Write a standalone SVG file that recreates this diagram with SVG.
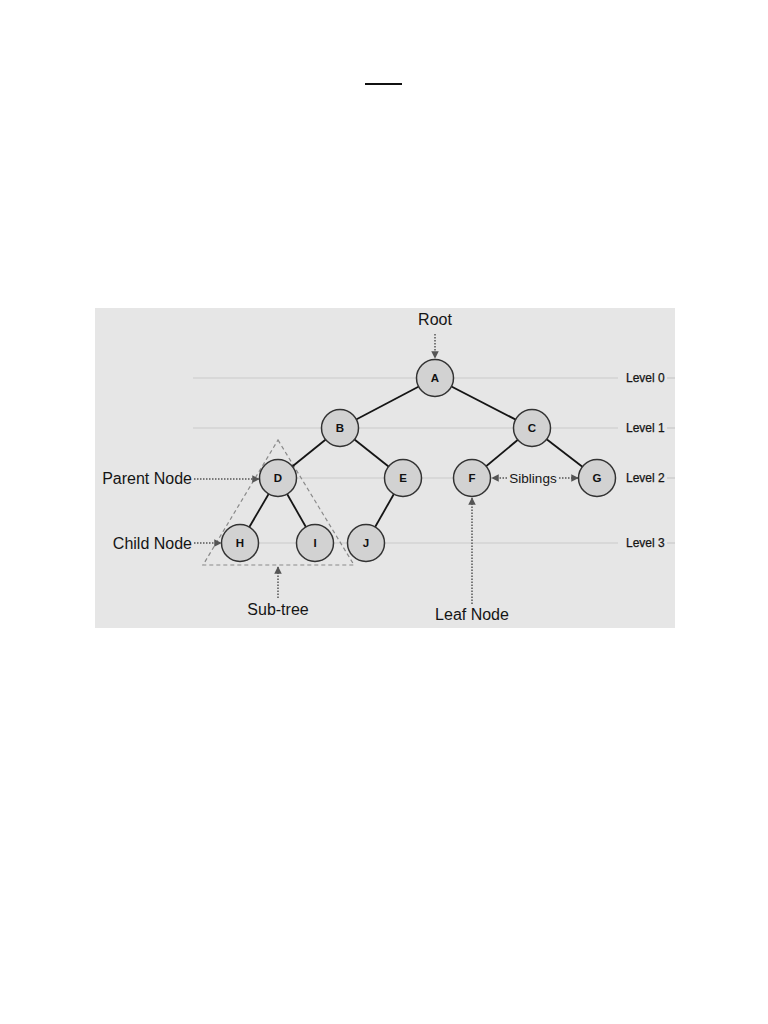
<svg xmlns="http://www.w3.org/2000/svg" width="768" height="1024" viewBox="0 0 768 1024">
<style>
.lvl{stroke:#c9c9c9;stroke-width:1.2;fill:none}
.edge{stroke:#151515;stroke-width:1.8;fill:none}
.ptr{stroke:#555;stroke-width:1.5;stroke-dasharray:1.5 1.5;fill:none}
.node circle{fill:#d2d2d2;stroke:#333;stroke-width:1.5}
.node text{font-family:"Liberation Sans",Arial,sans-serif;font-weight:bold;font-size:11.5px;fill:#111;text-anchor:middle}
.lbl{font-family:"Liberation Sans",Arial,sans-serif;font-size:16px;fill:#151515}
.sib{font-family:"Liberation Sans",Arial,sans-serif;font-size:13.5px;fill:#151515}
.lv{font-family:"Liberation Sans",Arial,sans-serif;font-size:12px;fill:#151515;stroke:#151515;stroke-width:0.25}
</style>
<defs>
<marker id="ah" viewBox="0 0 10 10" refX="9" refY="5" markerWidth="5" markerHeight="5" orient="auto">
<path d="M0,0 L10,5 L0,10 z" fill="#555"/>
</marker>
</defs>
<rect x="0" y="0" width="768" height="1024" fill="#ffffff"/>
<line x1="365" y1="84" x2="402" y2="84" stroke="#111" stroke-width="2"/>
<rect x="95" y="308" width="580" height="320" fill="#e6e6e6"/>
<g id="levels">
<line class="lvl" x1="193" y1="378" x2="618" y2="378"/>
<line class="lvl" x1="667" y1="378" x2="675" y2="378"/>
<line class="lvl" x1="193" y1="428" x2="618" y2="428"/>
<line class="lvl" x1="667" y1="428" x2="675" y2="428"/>
<line class="lvl" x1="296" y1="478" x2="455" y2="478"/>
<line class="lvl" x1="667" y1="478" x2="675" y2="478"/>
<line class="lvl" x1="258" y1="543" x2="618" y2="543"/>
<line class="lvl" x1="667" y1="543" x2="675" y2="543"/>
<text class="lv" x="626" y="382">Level 0</text>
<text class="lv" x="626" y="432">Level 1</text>
<text class="lv" x="626" y="482">Level 2</text>
<text class="lv" x="626" y="547">Level 3</text>
</g>
<polygon points="278,440 354,565 203,565" fill="none" stroke="#8a8a8a" stroke-width="1.2" stroke-dasharray="4 3"/>
<g id="connectors">
<line class="edge" x1="435" y1="378" x2="340" y2="428"/>
<line class="edge" x1="435" y1="378" x2="532" y2="428"/>
<line class="edge" x1="340" y1="428" x2="278" y2="478"/>
<line class="edge" x1="340" y1="428" x2="403" y2="478"/>
<line class="edge" x1="532" y1="428" x2="472" y2="478"/>
<line class="edge" x1="532" y1="428" x2="597" y2="478"/>
<line class="edge" x1="278" y1="478" x2="240" y2="543"/>
<line class="edge" x1="278" y1="478" x2="315" y2="543"/>
<line class="edge" x1="403" y1="478" x2="366" y2="543"/>
<line class="ptr" x1="435" y1="334" x2="435" y2="358" marker-end="url(#ah)"/>
<line class="ptr" x1="194" y1="479" x2="259" y2="479" marker-end="url(#ah)"/>
<line class="ptr" x1="194" y1="543" x2="221" y2="543" marker-end="url(#ah)"/>
<line class="ptr" x1="278" y1="598" x2="278" y2="567" marker-end="url(#ah)"/>
<line class="ptr" x1="472" y1="604" x2="472" y2="498" marker-end="url(#ah)"/>
<line class="ptr" x1="507" y1="478" x2="492" y2="478" marker-end="url(#ah)"/>
<line class="ptr" x1="559" y1="478" x2="578" y2="478" marker-end="url(#ah)"/>
</g>
<g id="A" class="node"><circle cx="435" cy="378" r="18.5"/><text x="435" y="382">A</text></g>
<g id="B" class="node"><circle cx="340" cy="428" r="18.5"/><text x="340" y="432">B</text></g>
<g id="C" class="node"><circle cx="532" cy="428" r="18.5"/><text x="532" y="432">C</text></g>
<g id="D" class="node"><circle cx="278" cy="478" r="18.5"/><text x="278" y="482">D</text></g>
<g id="E" class="node"><circle cx="403" cy="478" r="18.5"/><text x="403" y="482">E</text></g>
<g id="F" class="node"><circle cx="472" cy="478" r="18.5"/><text x="472" y="482">F</text></g>
<g id="G" class="node"><circle cx="597" cy="478" r="18.5"/><text x="597" y="482">G</text></g>
<g id="H" class="node"><circle cx="240" cy="543" r="18.5"/><text x="240" y="547">H</text></g>
<g id="I" class="node"><circle cx="315" cy="543" r="18.5"/><text x="315" y="547">I</text></g>
<g id="J" class="node"><circle cx="366" cy="543" r="18.5"/><text x="366" y="547">J</text></g>
<g id="labels">
<text class="lbl" x="435" y="325" text-anchor="middle">Root</text>
<text class="lbl" x="192" y="484" text-anchor="end">Parent Node</text>
<text class="lbl" x="192" y="549" text-anchor="end">Child Node</text>
<text class="lbl" x="278" y="615" text-anchor="middle">Sub-tree</text>
<text class="lbl" x="472" y="620" text-anchor="middle">Leaf Node</text>
<text class="sib" x="533" y="483" text-anchor="middle">Siblings</text>
</g>
</svg>
